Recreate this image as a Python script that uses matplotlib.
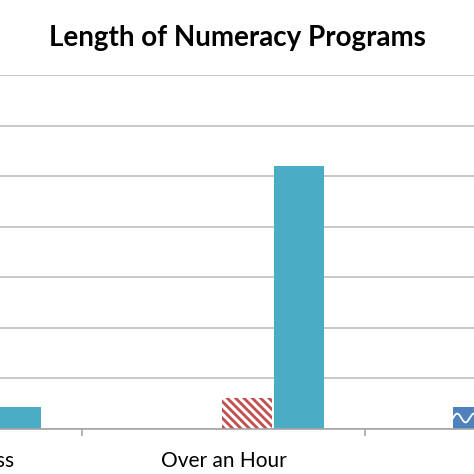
import numpy as np
import matplotlib
matplotlib.use("Agg")
import matplotlib.pyplot as plt
import matplotlib.transforms as mtransforms

categories = ["An Hour or Less", "Over an Hour", "Other"]
series_names = ["Series 1", "Series 2", "Series 3", "Series 4"]
series1 = [0, 0, 0]
series2 = [0, 0, 4.35]
series3 = [0, 6.1, 0]
series4 = [4.35, 52.0, 0]
title = "Length of Numeracy Programs"

plt.rcParams['hatch.linewidth'] = 2.2
plt.rcParams['font.family'] = ['Lato', 'DejaVu Sans']

fig = plt.figure(figsize=(4.74, 4.74), dpi=100)
ax = fig.add_axes([0, 45/474, 1, 354/474])

x = np.arange(len(categories))
w = 52/283
offsets = np.array([-1.5, -0.5, 0.5, 1.5]) * w - 2.5/283
bw = 50/283

ax.bar(x + offsets[0], series1, bw, color="#9BBB59", zorder=3)
b2 = ax.bar(x + offsets[1], series2, bw, color="#4F81BD", zorder=3)
ax.bar(x + offsets[2], series3, bw, color="#C0504D", edgecolor="white",
       hatch="\\\\\\\\", linewidth=0, zorder=3)
ax.bar(x + offsets[3], series4, bw, color="#4BACC6", zorder=3)

# wave decoration on blue bars
for r in b2:
    h = r.get_height()
    if h <= 0:
        continue
    xs = np.linspace(r.get_x(), r.get_x() + r.get_width(), 200)
    period = r.get_width() / 3
    ys = h * 0.5 + h * 0.2 * np.sin(2 * np.pi * (xs - r.get_x()) / period)
    ln, = ax.plot(xs, ys, color="white", lw=1.3, zorder=4)
    ln.set_clip_path(r)

ax.set_yticks(np.arange(0, 71, 10))
ax.tick_params(axis='y', length=0, labelleft=False)
ax.yaxis.grid(True, color="#BFBFBF", lw=1.2, zorder=0)
ax.set_axisbelow(True)

for s in ['top', 'left', 'right']:
    ax.spines[s].set_visible(False)
ax.spines['bottom'].set_color("#A6A6A6")
ax.spines['bottom'].set_linewidth(1.2)
ax.spines['bottom'].set_zorder(5)

ax.set_xticks(x)
ax.set_xticklabels([])
ax.tick_params(axis='x', which='major', length=0)
ax.set_xticks(x[:-1] + 0.5, minor=True)
ax.tick_params(axis='x', which='minor', length=5, width=1.2, color="#A6A6A6")

ax.set_xlim(0.5 - 82/283, 0.5 + 392/283)
ax.set_ylim(0, 70)

# category labels (drawn manually so that partially visible ones are kept)
trans = mtransforms.blended_transform_factory(ax.transData, ax.transAxes)
for xi, lab in zip(x, categories):
    ax.text(xi, -38/354, lab, transform=trans, ha='center', va='baseline',
            fontsize=15, color="#000000", clip_on=False)

fig.text(0.5, 1 - 45.7/474, title, ha='center', va='baseline',
         fontsize=20, fontweight='bold', color="#000000")

fig.savefig("out.png", dpi=100, facecolor="white")
